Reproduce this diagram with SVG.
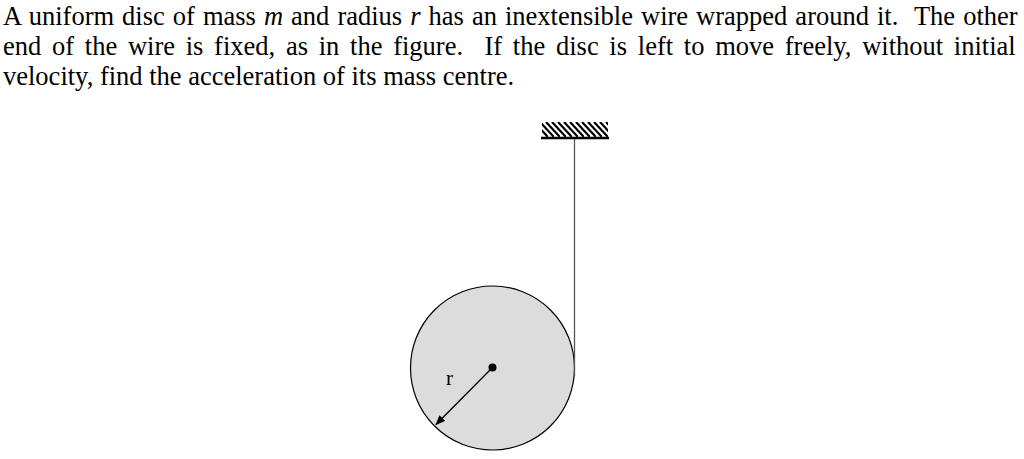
<svg xmlns="http://www.w3.org/2000/svg" width="1024" height="459" viewBox="0 0 1024 459">
<style>
.t{font-family:"Liberation Serif",serif;font-size:26.5px;fill:#000;white-space:pre}
</style>
<defs>
<pattern id="h" width="6" height="15" patternUnits="userSpaceOnUse" x="542" y="122">
<path d="M-2,0 L12,15 M-8,0 L6,15 M4,0 L18,15" stroke="#000" stroke-width="2.2"/>
</pattern>
<marker id="a" markerWidth="10" markerHeight="8" refX="9" refY="4" orient="auto" markerUnits="userSpaceOnUse">
<path d="M0,0 L10,4 L0,8 Z" fill="#000"/>
</marker>
</defs>
<rect width="1024" height="459" fill="#fff"/>
<g id="text">
<text class="t" x="3" y="25" word-spacing="1.4">A uniform disc of mass <tspan font-style="italic">m</tspan> and radius <tspan font-style="italic">r</tspan> has an inextensible wire wrapped around it.  The other</text>
<text class="t" x="3" y="55" word-spacing="4.1">end of the wire is fixed, as in the figure.  If the disc is left to move freely, without initial</text>
<text class="t" x="3" y="85">velocity, find the acceleration of its mass centre.</text>
</g>
<g id="support">
<rect x="542" y="122" width="66" height="15" fill="url(#h)"/>
<line x1="541" y1="138" x2="609" y2="138" stroke="#000" stroke-width="2.5"/>
</g>
<g id="disc">
<circle cx="492.5" cy="368" r="82" fill="#dcdcdc" stroke="#000" stroke-width="1.2"/>
<circle cx="492.5" cy="367.5" r="4" fill="#000"/>
<text x="446" y="385" style="font-family:'Liberation Serif',serif;font-size:21px">r</text>
</g>
<g id="connectors">
<line x1="574.5" y1="139" x2="574.5" y2="376" stroke="#555" stroke-width="1.3"/>
<line x1="492.5" y1="367.5" x2="436" y2="424.5" stroke="#000" stroke-width="1.3" marker-end="url(#a)"/>
</g>
</svg>
